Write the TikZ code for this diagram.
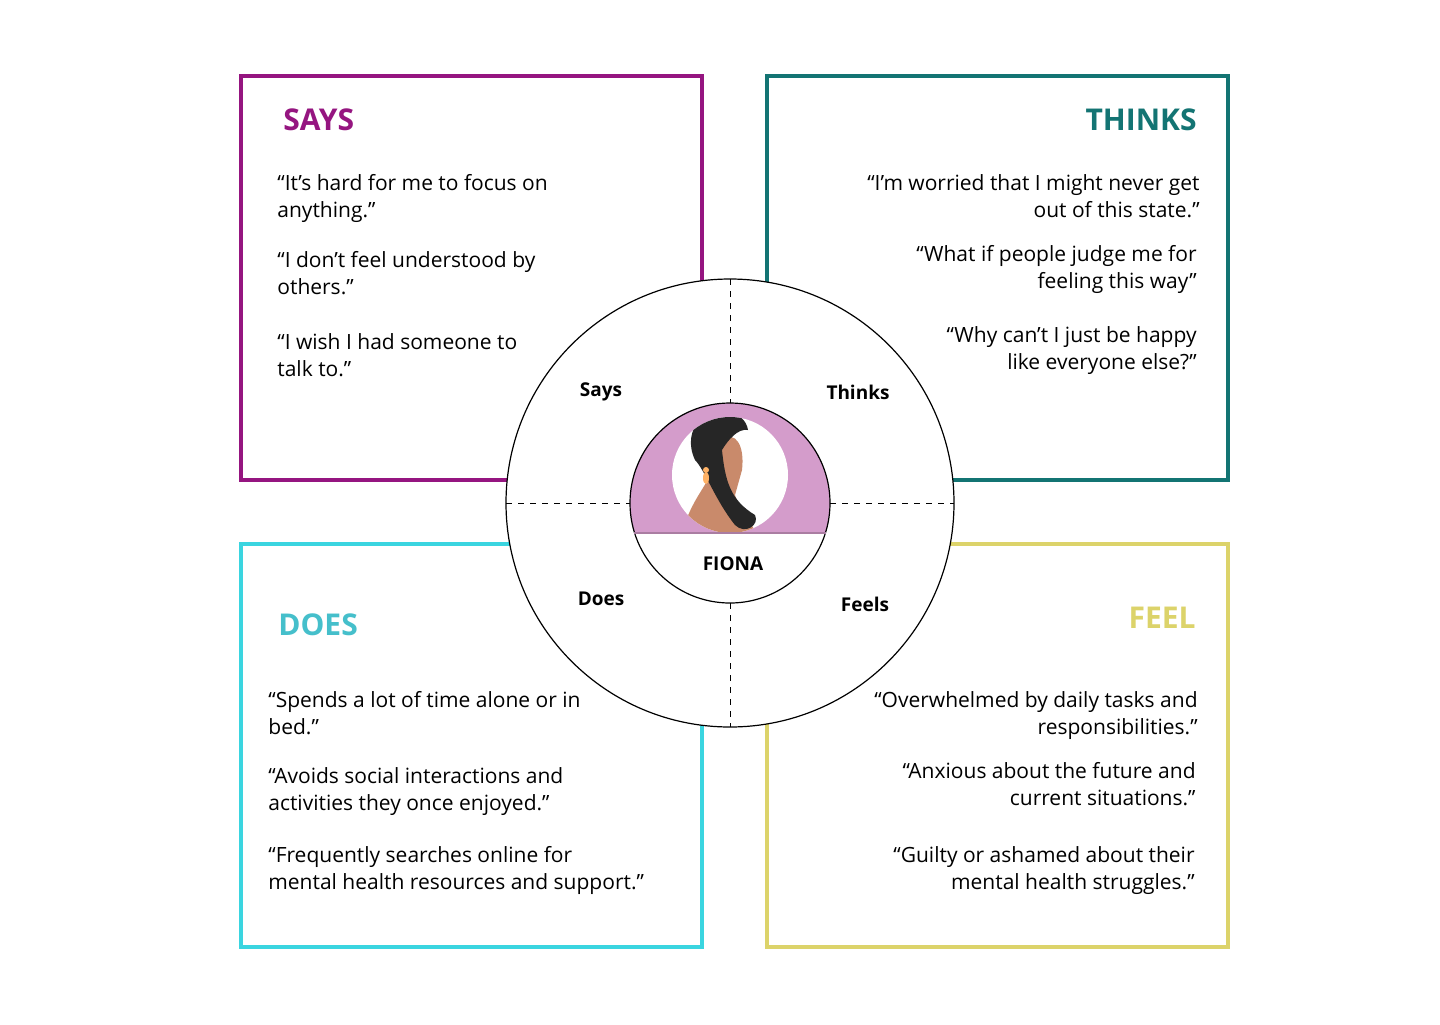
\documentclass[tikz,border=0pt]{standalone}
\usepackage{fontspec}
\setmainfont{Open Sans}
\begin{document}
\begin{tikzpicture}[x=0.5pt,y=-0.5pt,
  box/.style={line width=2pt},
  quote/.style={font=\fontsize{10.5}{13.5}\selectfont, inner sep=0pt},
  title/.style={font=\fontsize{15}{18}\selectfont\bfseries, inner sep=0pt},
  lab/.style={font=\fontsize{9.5}{11}\selectfont\bfseries, inner sep=0pt},
  dsh/.style={dashed, line width=0.5pt}]
\definecolor{cSays}{HTML}{951580}
\definecolor{cThinks}{HTML}{137473}
\definecolor{cDoes}{HTML}{3AD5E0}
\definecolor{cFeel}{HTML}{DCD36A}
\definecolor{cDoesT}{HTML}{45BFCB}
\definecolor{cPink}{HTML}{D49CCB}
\definecolor{cSkin}{HTML}{C98A6B}
\path[use as bounding box] (0,0) rectangle (1440,1024);
\fill[white] (0,0) rectangle (1440,1024);
\draw[box,cSays] (241,76) rectangle (702,480);
\draw[box,cThinks] (767,76) rectangle (1228,480);
\draw[box,cDoes] (241,544) rectangle (702,947);
\draw[box,cFeel] (767,544) rectangle (1228,947);

\node[title,text=cSays,anchor=west] (tS) at (283,120) {SAYS};
\node[title,text=cThinks,anchor=east] (tT) at (1197,120) {THINKS};
\node[title,text=cDoesT,anchor=west] (tD) at (278,625) {DOES};
\node[title,text=cFeel,anchor=east] (tF) at (1196,618) {FEEL};

\node[quote,anchor=north west,align=left] (s1) at (277,174) {“It's hard for me to focus on\\anything.”};
\node[quote,anchor=north west,align=left] (s2) at (277,251) {“I don't feel understood by\\others.”};
\node[quote,anchor=north west,align=left] (s3) at (277,333) {“I wish I had someone to\\talk to.”};

\node[quote,anchor=north east,align=right] (t1) at (1200,174) {“I'm worried that I might never get\\out of this state.”};
\node[quote,anchor=north east,align=right] (t2) at (1197,245) {“What if people judge me for\\feeling this way”};
\node[quote,anchor=north east,align=right] (t3) at (1197,326) {“Why can't I just be happy\\like everyone else?”};

\node[quote,anchor=north west,align=left] (d1) at (268,691) {“Spends a lot of time alone or in\\bed.”};
\node[quote,anchor=north west,align=left] (d2) at (268,767) {“Avoids social interactions and\\activities they once enjoyed.”};
\node[quote,anchor=north west,align=left] (d3) at (268,846) {“Frequently searches online for\\mental health resources and support.”};

\node[quote,anchor=north east,align=right] (f1) at (1198,691) {“Overwhelmed by daily tasks and\\responsibilities.”};
\node[quote,anchor=north east,align=right] (f2) at (1196,762) {“Anxious about the future and\\current situations.”};
\node[quote,anchor=north east,align=right] (f3) at (1195,846) {“Guilty or ashamed about their\\mental health struggles.”};

% wheel
\coordinate (c) at (730,503);
\draw[fill=white,line width=0.6pt] (c) circle[radius=224];
\draw[dsh] (730,279) -- (730,403);
\draw[dsh] (730,603) -- (730,727);
\draw[dsh] (506,503) -- (630,503);
\draw[dsh] (830,503) -- (954,503);
\begin{scope}
\clip (c) circle[radius=100];
\fill[cPink] (620,390) rectangle (840,533);
\fill[white] (730,475) circle[radius=58];
\clip (730,475) circle[radius=58];
% neck and face
\fill[cSkin] (680,540) .. controls (690,500) and (705,490) .. (712,470) -- (722,440) .. controls (735,430) and (745,445) .. (742,470) -- (735,495) .. controls (740,510) and (750,520) .. (760,540) -- cycle;
\fill[black!85] (700,420) .. controls (715,405) and (745,410) .. (748,430) .. controls (738,428) and (728,440) .. (722,450) .. controls (725,480) and (730,500) .. (755,515) .. controls (760,525) and (745,535) .. (735,525) .. controls (715,500) and (705,470) .. (695,460) .. controls (688,445) and (690,430) .. (700,420) -- cycle;
\fill[orange!60!white] (706,470) circle[radius=3];
\fill[orange!60!white] (706,478) ellipse[x radius=3, y radius=6];
\end{scope}
\draw[line width=0.6pt] (c) circle[radius=100];
\draw[cPink!80!black,line width=0.6pt] (634,533) -- (826,533);

\node[lab] (lS) at (601,392) {Says};
\node[lab] (lT) at (858,392) {Thinks};
\node[lab] (lD) at (601,599) {Does};
\node[lab] (lF) at (865,604) {Feels};
\node[lab] (lN) at (733,564) {FIONA};
\end{tikzpicture}
\end{document}
